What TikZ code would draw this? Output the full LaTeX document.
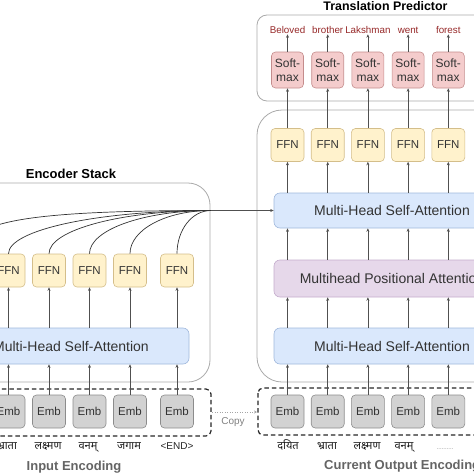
\documentclass[tikz,border=0pt]{standalone}
\usepackage{fontspec}
\setmainfont{Liberation Sans}
\newfontfamily\deva[Script=Devanagari]{Noto Sans}
\usetikzlibrary{arrows.meta,calc}
\definecolor{ffnfill}{RGB}{255,242,204}
\definecolor{ffndraw}{RGB}{212,190,138}
\definecolor{attfill}{RGB}{218,232,252}
\definecolor{attdraw}{RGB}{160,184,220}
\definecolor{mpafill}{RGB}{230,216,234}
\definecolor{mpadraw}{RGB}{196,172,204}
\definecolor{smfill}{RGB}{244,204,204}
\definecolor{smdraw}{RGB}{196,140,140}
\definecolor{embfill}{RGB}{210,210,210}
\definecolor{embdraw}{RGB}{140,140,140}
\definecolor{wordred}{RGB}{150,40,40}
\definecolor{linegray}{RGB}{80,80,80}
\definecolor{boxgray}{RGB}{170,170,170}
\definecolor{labelgray}{RGB}{100,100,100}
\begin{document}
\begin{tikzpicture}[x=1pt,y=-1pt,
  box/.style={rounded corners=4pt, line width=0.6pt, minimum width=33pt, minimum height=33pt, inner sep=0pt, text=black!80, font=\fontsize{11.5}{12}\selectfont},
  ffnbox/.style={box, fill=ffnfill, draw=ffndraw},
  embbox/.style={box, fill=embfill, draw=embdraw},
  smbox/.style={box, fill=smfill, draw=smdraw, minimum width=32pt, minimum height=36pt, align=center, font=\fontsize{12}{13.5}\selectfont},
  attbox/.style={rounded corners=6pt, line width=0.6pt, fill=attfill, draw=attdraw, minimum height=36pt, minimum width=236pt, inner sep=0pt, text=black!80, font=\fontsize{14}{16}\selectfont},
  mpabox/.style={attbox, fill=mpafill, draw=mpadraw},
  container/.style={draw=boxgray, line width=0.8pt},
  dashbox/.style={draw=black!85, line width=1.2pt, dash pattern=on 4.5pt off 3pt, rounded corners=5pt},
  arr/.style={draw=linegray, line width=0.7pt, -{Stealth[length=3.5pt,width=3pt]}},
  curve/.style={draw=black!80, line width=0.7pt},
  copyarr/.style={draw=gray!70, line width=0.8pt, dash pattern=on 1pt off 1.5pt, -{Stealth[length=3pt,width=3pt]}},
  word/.style={font=\fontsize{9.8}{10}\selectfont, text=wordred, inner sep=1pt},
  dword/.style={font=\deva\fontsize{11}{12}\selectfont, text=black!90, inner sep=1pt},
  endword/.style={font=\fontsize{10}{11}\selectfont, text=black!85, inner sep=1pt},
  title/.style={font=\bfseries\fontsize{13}{14}\selectfont, text=black, inner sep=0pt},
  subtitle/.style={font=\bfseries\fontsize{13}{14}\selectfont, text=labelgray, inner sep=0pt},
]
\useasboundingbox (0,0) rectangle (474,474);
\begin{scope}
\clip (0,0) rectangle (474,474);
% containers
\draw[container, rounded corners=22pt] (-80,183) rectangle (210,382);
\draw[container, rounded corners=25pt] (257,110) rectangle (560,382);
\draw[container, rounded corners=10pt] (257,15) rectangle (560,101);
\draw[dashbox] (-80,389) rectangle (211,436);
\draw[dashbox] (258,388) rectangle (560,435);
% titles
\node[title, font=\bfseries\fontsize{12.4}{14}\selectfont, anchor=base] (tp) at (385.5,10.5) {Translation Predictor};
\node[title, anchor=base] (es) at (71,178) {Encoder Stack};
\node[subtitle, anchor=base] (ie) at (74,470) {Input Encoding};
\node[subtitle, anchor=base west] (coe) at (324,469.5) {Current Output Encoding};
% encoder
\node[attbox] (emhsa) at (71,346) {Multi-Head Self-Attention};
\coordinate (M) at (211,210.5);
\foreach \i/\x in {0/-32,1/8.5,2/49,3/89.5,4/130,5/177} {
  \node[embbox] (eemb\i) at (\x,411.5) {Emb};
  \node[ffnbox] (effn\i) at (\x,270.5) {FFN};
  \draw[arr] (eemb\i.north) -- (eemb\i.north |- emhsa.south);
  \draw[arr] (effn\i.south |- emhsa.north) -- (effn\i.south);
}
\draw[curve] (effn0.north) .. controls +(0,-30) and ($(M)+(-200,0)$) .. (M);
\foreach \i/\c in {1/112,2/89,3/67,4/45,5/19} {
  \draw[curve] (effn\i.north) .. controls +(0,-24) and ($(M)+(-\c,0)$) .. (M);
}
\node[dword, anchor=base] (ew1) at (7,449.5) {भ्राता};
\node[dword, anchor=base] (ew2) at (48,449.5) {लक्ष्मण};
\node[dword, anchor=base] (ew3) at (88,449.5) {वनम्};
\node[dword, anchor=base] (ew4) at (129,449.5) {जगाम};
\node[endword, anchor=base] (ew5) at (177,449.5) {<END>};
% decoder
\node[attbox] (dmhsa1) at (392,346) {Multi-Head Self-Attention};
\node[mpabox, minimum height=37pt] (dmpa) at (392,278.5) {Multihead Positional Attention};
\node[attbox, minimum height=35pt] (dmhsa2) at (392,210.5) {Multi-Head Self-Attention};
\draw[arr] (M) -- (dmhsa2.west);
\foreach \i/\x/\w in {1/287.5/Beloved,2/327.7/brother,3/367.9/Lakshman,4/408.1/went,5/448.3/forest} {
  \node[embbox] (demb\i) at (\x,411.5) {Emb};
  \node[ffnbox] (dffn\i) at (\x,145) {FFN};
  \node[smbox] (dsm\i) at (\x,70) {Soft-\\max};
  \node[word, anchor=base] (dw\i) at (\x,33) {\w};
  \draw[arr] (demb\i.north) -- (demb\i.north |- dmhsa1.south);
  \draw[arr] (dmhsa1.north -| demb\i.north) -- (demb\i.north |- dmpa.south);
  \draw[arr] (dmpa.north -| demb\i.north) -- (demb\i.north |- dmhsa2.south);
  \draw[arr] (dmhsa2.north -| demb\i.north) -- (dffn\i.south);
  \draw[arr] (dffn\i.north) -- (dsm\i.south);
  \draw[arr] (dsm\i.north) -- (dw\i.south);
}
\node[dword, anchor=base] (dd1) at (288,449.5) {दयित};
\node[dword, anchor=base] (dd2) at (327,449.5) {भ्राता};
\node[dword, anchor=base] (dd3) at (367,449.5) {लक्ष्मण};
\node[dword, anchor=base] (dd4) at (404,449.5) {वनम्};
\node[endword, anchor=base, text=gray, font=\fontsize{6}{7}\selectfont] (dd5) at (445,449.5) {..........};
% copy
\coordinate (copyA) at (212,412);
\coordinate (copyB) at (257,412);
\draw[copyarr] (copyA) -- (copyB);
\node[endword, text=gray, anchor=base] (copy) at (233,424) {Copy};
\end{scope}
\end{tikzpicture}
\end{document}
